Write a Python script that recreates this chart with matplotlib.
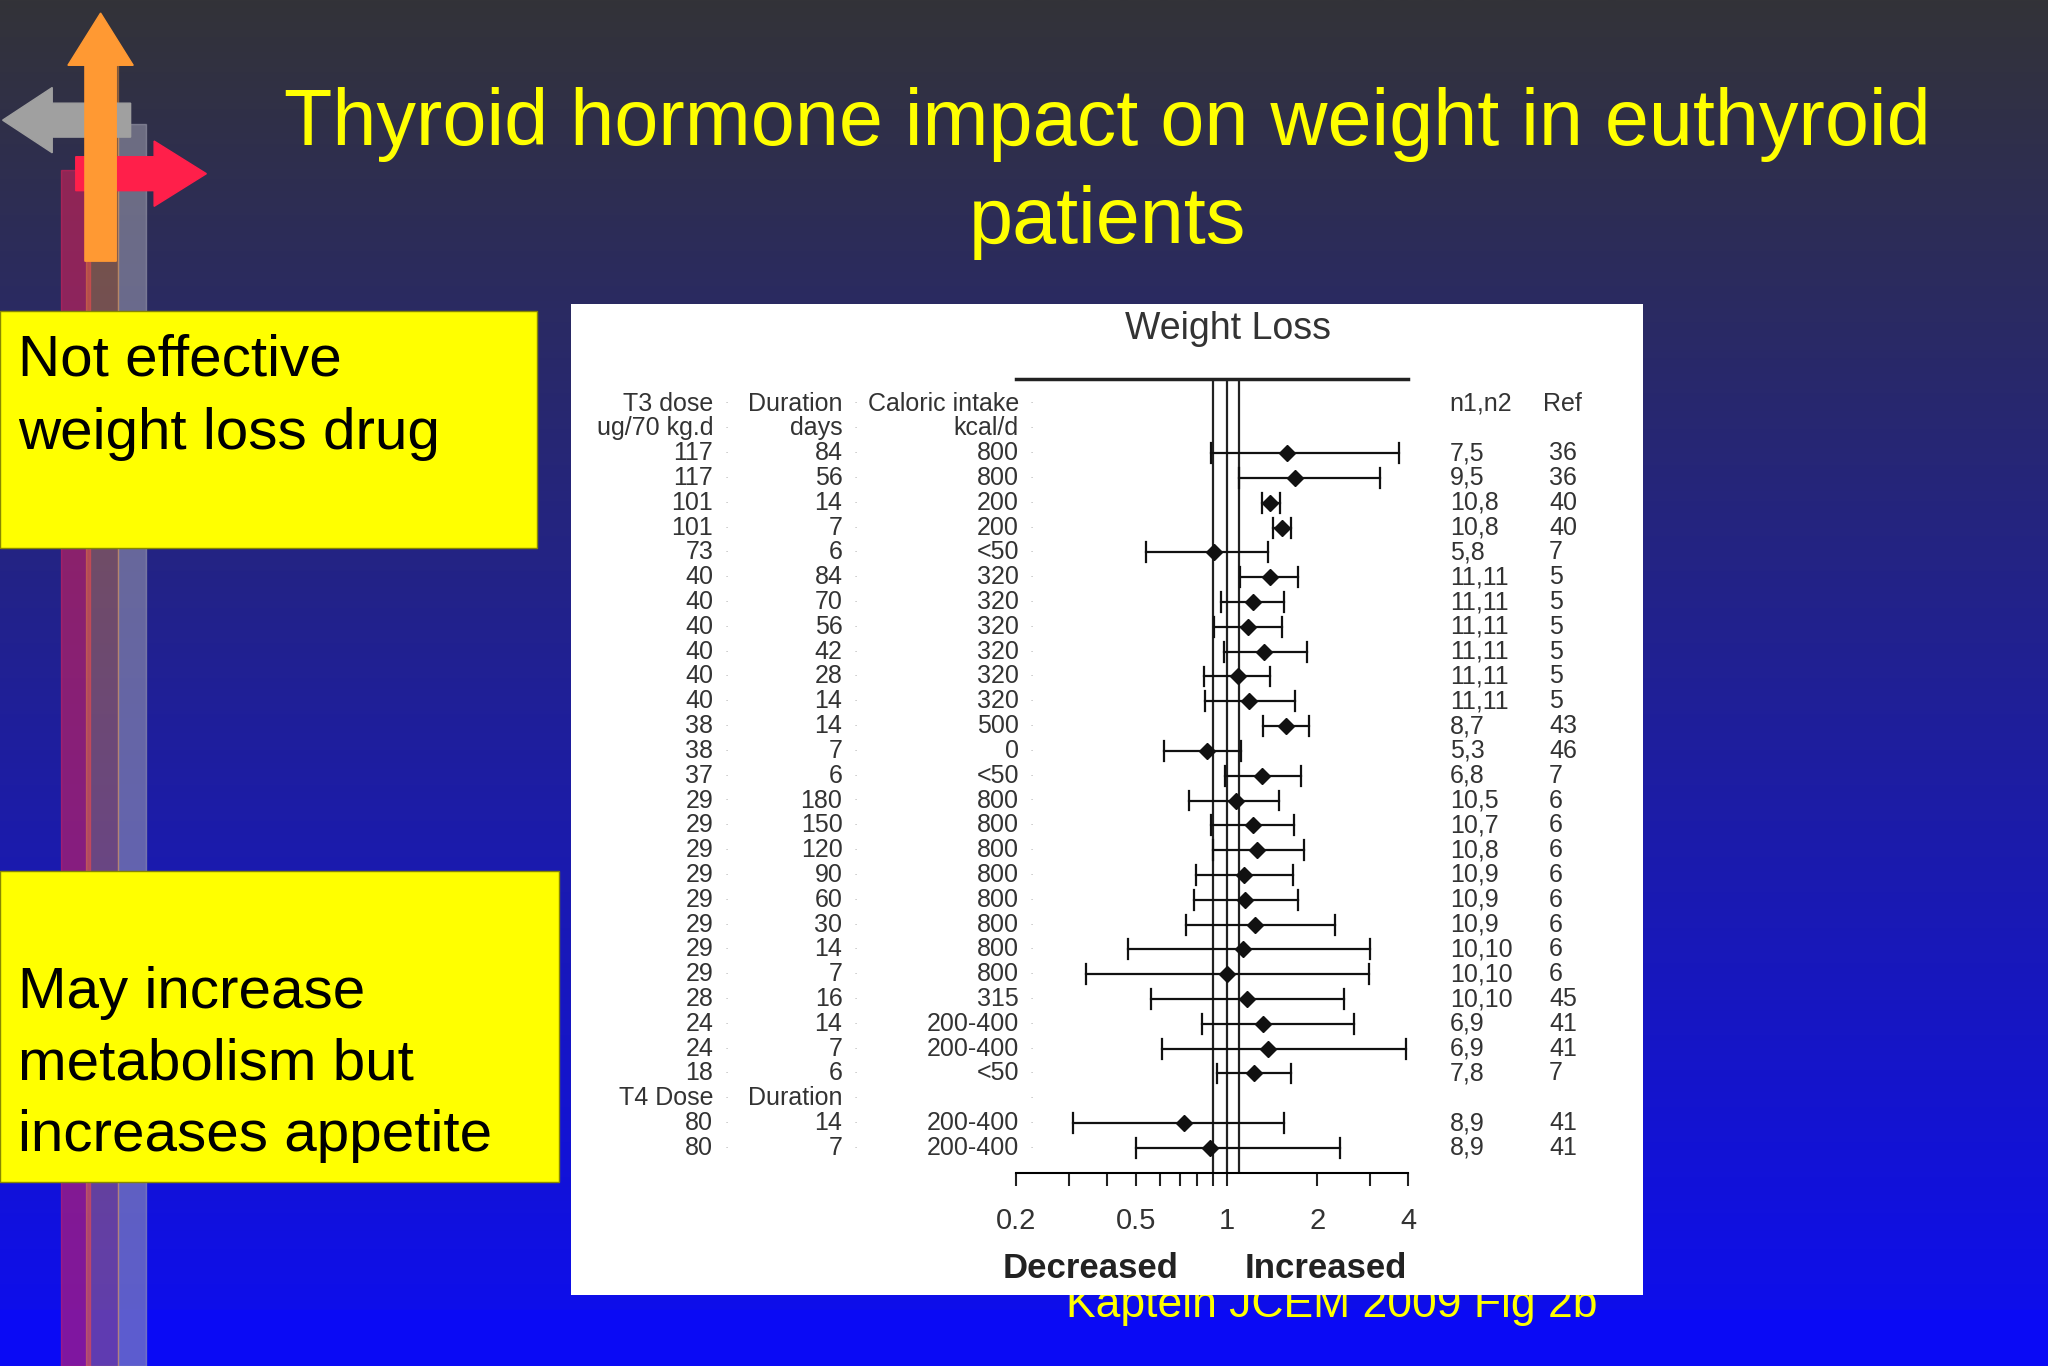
import numpy as np
import matplotlib
matplotlib.use("Agg")
import matplotlib.pyplot as plt
import matplotlib.transforms as mtrans
from matplotlib.patches import Rectangle, FancyArrow

t3_dose = [117,117,101,101,73,40,40,40,40,40,40,38,38,37,29,29,29,29,29,29,29,29,28,24,24,18]
duration = [84,56,14,7,6,84,70,56,42,28,14,14,7,6,180,150,120,90,60,30,14,7,16,14,7,6]
caloric = ["800","800","200","200","<50","320","320","320","320","320","320","500","0","<50",
           "800","800","800","800","800","800","800","800","315","200-400","200-400","<50"]
n1n2 = ["7,5","9,5","10,8","10,8","5,8","11,11","11,11","11,11","11,11","11,11","11,11","8,7","5,3","6,8",
        "10,5","10,7","10,8","10,9","10,9","10,9","10,10","10,10","10,10","6,9","6,9","7,8"]
refs = [36,36,40,40,7,5,5,5,5,5,5,43,46,7,6,6,6,6,6,6,6,6,45,41,41,7]
t3_pt = [1.58,1.69,1.39,1.53,0.91,1.39,1.22,1.18,1.33,1.09,1.19,1.57,0.86,1.31,1.07,1.22,1.26,1.14,1.15,1.24,1.13,1.00,1.17,1.32,1.37,1.23]
t3_lo = [0.885,1.10,1.31,1.43,0.54,1.11,0.96,0.91,0.98,0.84,0.85,1.32,0.62,0.99,0.75,0.89,0.90,0.79,0.78,0.73,0.47,0.34,0.56,0.83,0.61,0.93]
t3_hi = [3.72,3.24,1.50,1.64,1.37,1.72,1.55,1.53,1.85,1.39,1.69,1.87,1.12,1.77,1.49,1.67,1.81,1.66,1.72,2.29,3.00,2.98,2.45,2.64,3.95,1.64]
t4_dose = [80,80]
t4_duration = [14,7]
t4_caloric = ["200-400","200-400"]
t4_n1n2 = ["8,9","8,9"]
t4_refs = [41,41]
t4_pt = [0.72,0.88]
t4_lo = [0.31,0.50]
t4_hi = [1.55,2.38]
ref_lines = [0.90,1.0,1.10]
xticks = [0.2,0.5,1,2,4]
minor_ticks = [0.3,0.4,0.6,0.7,0.8,0.9,3]

W, H = 1568.0, 1046.0
def fx(x): return x / W
def fy(y): return 1 - y / H

fig = plt.figure(figsize=(20.48, 13.66), dpi=100)
plt.rcParams['font.family'] = ['Liberation Sans', 'DejaVu Sans']

bg = fig.add_axes([0, 0, 1, 1]); bg.set_axis_off()
grad = np.linspace(0, 1, 512)[:, None]
c_top = np.array([0.20, 0.20, 0.22]); c_bot = np.array([0.05, 0.05, 0.95])
img = c_top[None, None, :] * (1 - grad[..., None]) + c_bot[None, None, :] * grad[..., None]
bg.imshow(img, aspect='auto', extent=[0, W, H, 0])
bg.add_patch(Rectangle((0, 1003), W, 43, color='#0a0af5', zorder=1))
bg.set_xlim(0, W); bg.set_ylim(H, 0)
bg.add_patch(Rectangle((47, 130), 22, 916, color='#e0205a', alpha=0.55, zorder=2))
bg.add_patch(Rectangle((90, 95), 22, 951, color='#a0a0b0', alpha=0.55, zorder=2))
bg.add_patch(Rectangle((66, 50), 24, 996, color='#ff9933', alpha=0.35, zorder=2))
bg.add_patch(FancyArrow(100, 92, -60, 0, width=26, head_width=50, head_length=38, color='#a0a0a0', zorder=3))
bg.add_patch(FancyArrow(58, 133, 60, 0, width=26, head_width=50, head_length=40, color='#ff1f4a', zorder=3))
bg.add_patch(FancyArrow(77, 200, 0, -150, width=24, head_width=50, head_length=40, color='#ff9933', zorder=4))
bg.text(1020, 1000, "Kaptein JCEM 2009 Fig 2b", color='yellow', fontsize=32, ha='center', va='center', zorder=2)

fig.text(fx(848), fy(95), "Thyroid hormone impact on weight in euthyroid", color='#ffff00',
         fontsize=57, ha='center', va='center')
fig.text(fx(848), fy(170), "patients", color='#ffff00', fontsize=57, ha='center', va='center')

for (x0, y0, x1, y1, lines, ys) in [
        (0, 238, 411, 420, ["Not effective", "weight loss drug"], [276, 332]),
        (0, 667, 428, 905, ["May increase", "metabolism but", "increases appetite"], [760, 815, 870])]:
    fig.patches.append(Rectangle((fx(x0), fy(y1)), fx(x1 - x0), (y1 - y0) / H, transform=fig.transFigure,
                                 facecolor='#ffff00', edgecolor='#888800', lw=1, zorder=5))
    for s, yy in zip(lines, ys):
        fig.text(fx(14), fy(yy), s, fontsize=42, color='black', ha='left', va='center', zorder=6)

fig.patches.append(Rectangle((fx(437), fy(992)), fx(1258 - 437), (992 - 233) / H,
                             transform=fig.transFigure, facecolor='white', edgecolor='none', zorder=3))

ax_l, ax_r, ax_t, ax_b = 778, 1078, 290, 898
ax = fig.add_axes([fx(ax_l), fy(ax_b), fx(ax_r - ax_l), (ax_b - ax_t) / H], zorder=4)
ax.patch.set_alpha(0)
ax.set_xscale('log')
ax.set_xlim(0.2, 4)
ax.set_ylim(31, -1)
for s in ['left', 'right', 'top']:
    ax.spines[s].set_visible(False)
ax.spines['bottom'].set_linewidth(1.5)
ax.axhline(-1, color='#222222', lw=2.5, clip_on=False)
ax.set_yticks([])
ax.set_xticks(xticks)
ax.set_xticklabels([str(t) for t in xticks], fontsize=21, color='#333333')
ax.set_xticks(minor_ticks, minor=True)
ax.xaxis.set_minor_formatter(plt.NullFormatter())
ax.tick_params(axis='x', which='both', length=9, width=1.5, pad=16, color='#222222')
for v in ref_lines:
    ax.axvline(v, color='#222222', lw=1.6, ymin=0, ymax=1)

rows_t3 = list(range(2, 28)); rows_t4 = [29, 30]
def forest(rows, pt, lo, hi):
    for r, p, l, h in zip(rows, pt, lo, hi):
        ax.plot([l, h], [r, r], color='#111111', lw=1.6)
        ax.plot([l, l], [r - 0.4, r + 0.4], color='#111111', lw=1.6)
        ax.plot([h, h], [r - 0.4, r + 0.4], color='#111111', lw=1.6)
        ax.plot([p], [r], marker='D', color='#111111', ms=8)
forest(rows_t3, t3_pt, t3_lo, t3_hi)
forest(rows_t4, t4_pt, t4_lo, t4_hi)

tr = mtrans.blended_transform_factory(fig.transFigure, ax.transData)
fs = 18; col = '#333333'
def txt(x, k, s, ha='right', **kw):
    ax.text(fx(x), k, s, transform=tr, ha=ha, va='center', fontsize=fs, color=col, clip_on=False, **kw)
txt(546, 0, "T3 dose"); txt(546, 1, "ug/70 kg.d")
txt(645, 0, "Duration"); txt(645, 1, "days")
txt(780, 0, "Caloric intake"); txt(780, 1, "kcal/d")
txt(1110, 0, "n1,n2", ha='left'); txt(1181, 0, "Ref", ha='left')
txt(546, 28, "T4 Dose"); txt(645, 28, "Duration")
for r, a, b, c, n, rf in zip(rows_t3, t3_dose, duration, caloric, n1n2, refs):
    txt(546, r, str(a)); txt(645, r, str(b)); txt(780, r, c)
    txt(1110, r, n, ha='left'); txt(1186, r, str(rf), ha='left')
for r, a, b, c, n, rf in zip(rows_t4, t4_dose, t4_duration, t4_caloric, t4_n1n2, t4_refs):
    txt(546, r, str(a)); txt(645, r, str(b)); txt(780, r, c)
    txt(1110, r, n, ha='left'); txt(1186, r, str(rf), ha='left')
for k in list(range(0, 31)):
    for x in (556, 655, 790):
        ax.text(fx(x), k, "·", transform=tr, ha='center', va='center', fontsize=9, color='#aaaaaa', clip_on=False)

fig.text(fx(940), fy(252), "Weight Loss", fontsize=27, color='#333333', ha='center', va='center', zorder=6)
fig.text(fx(835), fy(971), "Decreased", fontsize=25, fontweight='bold', color='#222222', ha='center', va='center', zorder=6)
fig.text(fx(1015), fy(971), "Increased", fontsize=25, fontweight='bold', color='#222222', ha='center', va='center', zorder=6)

fig.savefig("out.png", dpi=100)
